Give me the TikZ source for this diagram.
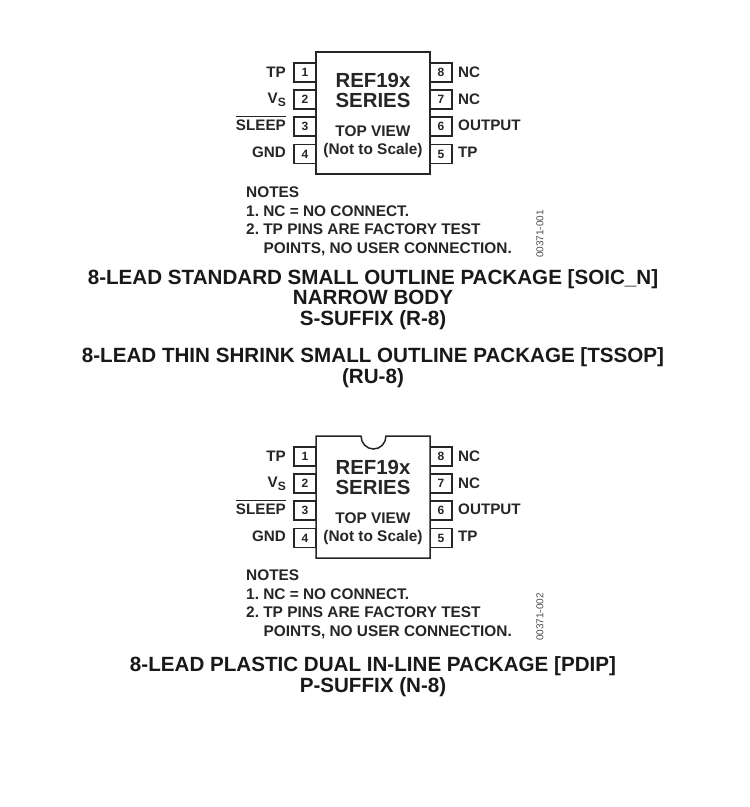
\documentclass[tikz,border=0pt]{standalone}
\usepackage{fontspec}
\setmainfont{Liberation Sans}
\newcommand{\fs}[1]{\fontsize{#1}{#1}\selectfont}
\tikzset{
  pinbox/.style={draw=black!85,line width=1.3pt,fill=white,minimum width=22pt,minimum height=19pt,inner sep=0pt,font=\fs{12}\bfseries,text=black!85},
  pinlabel/.style={inner sep=0pt,font=\fs{15.2}\bfseries,text=black!85},
  titletext/.style={inner sep=0pt,align=center,text=black!85,font=\fs{20.4}\bfseries},
  viewtext/.style={inner sep=0pt,align=center,text=black!85,font=\fs{15.4}\bfseries},
  notes/.style={inner sep=0pt,anchor=base west,font=\fs{15.4}\bfseries,text=black!85},
  caption/.style={inner sep=0pt,anchor=base,font=\fs{20.6}\bfseries,text=black!90},
  code/.style={inner sep=0pt,rotate=90,font=\fs{10},text=black!70},
  chip/.style={draw=black!85,line width=1.5pt,fill=white}
}
\newcommand{\pkgpins}[2]{% prefix, y offset
  \node[pinbox] (#1p1) at (305,72.5+#2) {1};
  \node[pinbox] (#1p2) at (305,99.5+#2) {2};
  \node[pinbox] (#1p3) at (305,126.5+#2) {3};
  \node[pinbox] (#1p4) at (305,154+#2) {4};
  \node[pinbox] (#1p8) at (441,72.5+#2) {8};
  \node[pinbox] (#1p7) at (441,99.5+#2) {7};
  \node[pinbox] (#1p6) at (441,126.5+#2) {6};
  \node[pinbox] (#1p5) at (441,154+#2) {5};
  \node[pinlabel,anchor=east] (#1l1) at (286,72+#2) {TP};
  \node[pinlabel,anchor=east] (#1l2) at (286,100+#2) {V\raisebox{-2.5pt}{\fs{12}S}};
  \node[pinlabel,anchor=east] (#1l3) at (286,125.5+#2) {SLEEP};
  \draw[line width=0.9pt,black!85] (236,116.5+#2) -- (286,116.5+#2);
  \node[pinlabel,anchor=east] (#1l4) at (286,152.5+#2) {GND};
  \node[pinlabel,anchor=west] (#1l8) at (458,72+#2) {NC};
  \node[pinlabel,anchor=west] (#1l7) at (458,99+#2) {NC};
  \node[pinlabel,anchor=west] (#1l6) at (458,125.5+#2) {OUTPUT};
  \node[pinlabel,anchor=west] (#1l5) at (458,152.5+#2) {TP};
}
\newcommand{\pkgbody}[2]{%
  \node[titletext] (#1t1) at (373,80.5+#2) {REF19x};
  \node[titletext] (#1t2) at (373,100+#2) {SERIES};
  \node[viewtext] (#1t3) at (373,131+#2) {TOP VIEW};
  \node[viewtext] (#1t4) at (373,151+#2) {(Not to Scale)};
}
\newcommand{\pkgnotes}[2]{%
  \node[notes] (#1n1) at (246,197+#2) {NOTES};
  \node[notes] (#1n2) at (246,216+#2) {1. NC = NO CONNECT.};
  \node[notes] (#1n3) at (246,234+#2) {2. TP PINS ARE FACTORY TEST};
  \node[notes] (#1n4) at (263.5,253+#2) {POINTS, NO USER CONNECTION.};
}
\begin{document}
\frenchspacing
\begin{tikzpicture}[x=1pt,y=-1pt]
\useasboundingbox (0,0) rectangle (750,807);
\fill[white] (0,0) rectangle (750,807);
% Upper package
\pkgpins{a}{0}
\draw[chip] (316,52) rectangle (430,174);
\pkgbody{a}{0}
\pkgnotes{a}{0}
\node[code] (acode) at (540,234) {00371-001};
\node[caption] (c1) at (373,284) {8-LEAD STANDARD SMALL OUTLINE PACKAGE [SOIC\_N]};
\node[caption] (c2) at (373,304) {NARROW BODY};
\node[caption] (c3) at (373,325) {S-SUFFIX (R-8)};
\node[caption] (c4) at (373,362) {8-LEAD THIN SHRINK SMALL OUTLINE PACKAGE [TSSOP]};
\node[caption] (c5) at (373,383) {(RU-8)};
% Lower package
\pkgpins{b}{384}
\draw[chip] (316,436) -- (361,436) arc[start angle=180,end angle=360,x radius=12.5,y radius=-13] -- (430,436) -- (430,558) -- (316,558) -- cycle;
\pkgbody{b}{387}
\pkgnotes{b}{383}
\node[code] (bcode) at (540,617) {00371-002};
\node[caption] (c6) at (373,671) {8-LEAD PLASTIC DUAL IN-LINE PACKAGE [PDIP]};
\node[caption] (c7) at (373,692) {P-SUFFIX (N-8)};
\end{tikzpicture}
\end{document}
